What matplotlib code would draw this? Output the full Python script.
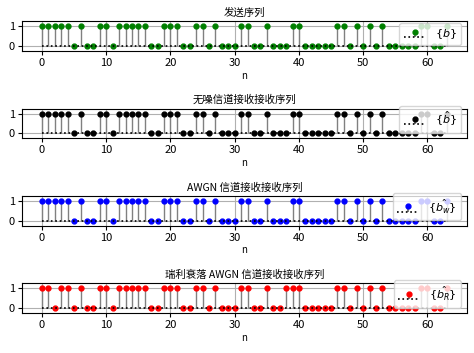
import numpy as np
import matplotlib
matplotlib.use("Agg")
import matplotlib.pyplot as plt

plt.rcParams['font.family'] = ['Noto Sans CJK SC', 'DejaVu Sans']
plt.rcParams['axes.unicode_minus'] = False

# 发送序列 (64 bits)
b = [1, 1, 1, 1, 1, 0, 1, 0, 0, 1, 1, 0, 1, 1, 1, 1,
     1, 0, 0, 1, 1, 1, 0, 0, 1, 1, 0, 1, 0, 0, 0, 1,
     1, 0, 0, 1, 0, 0, 0, 1, 1, 0, 0, 0, 0, 0, 1, 1,
     0, 1, 0, 1, 0, 1, 0, 0, 0, 0, 0, 1, 1, 0, 0, 1]
# 无噪信道接收
b_hat = list(b)
# AWGN 信道接收
b_w = list(b)
# 瑞利衰落 AWGN 信道接收 (两处误码: 2, 38)
b_R = [1, 1, 0, 1, 1, 0, 1, 0, 0, 1, 1, 0, 1, 1, 1, 1,
       1, 0, 0, 1, 1, 1, 0, 0, 1, 1, 0, 1, 0, 0, 0, 1,
       1, 0, 0, 1, 0, 0, 1, 1, 1, 0, 0, 0, 0, 0, 1, 1,
       0, 1, 0, 1, 0, 1, 0, 0, 0, 0, 0, 1, 1, 0, 0, 1]

titles = ['发送序列', '无噪信道接收接收序列', 'AWGN 信道接收接收序列', '瑞利衰落 AWGN 信道接收接收序列']
labels = [r'$\{b\}$', r'$\{\hat{b}\}$', r'$\{\hat{b_w}\}$', r'$\{\hat{b_R}\}$']
colors = ['g', 'k', 'b', 'r']
data = [b, b_hat, b_w, b_R]

n = np.arange(len(b))
fig, axes = plt.subplots(4, 1, figsize=(4.74, 3.53), dpi=100)
fig.subplots_adjust(left=0.046, right=0.985, top=0.94, bottom=0.113, hspace=1.93)

for ax, y, t, lab, c in zip(axes, data, titles, labels, colors):
    ml, sl, bl = ax.stem(n, y, linefmt='grey', markerfmt=c + 'o', basefmt='k:', label=lab)
    plt.setp(ml, markersize=3.5)
    plt.setp(sl, linewidth=1)
    plt.setp(bl, linewidth=1.2)
    ax.set_ylim(-0.25, 1.25)
    ax.set_title(t, fontsize=7.5, pad=4)
    ax.set_xlabel('n', fontsize=7, labelpad=2)
    ax.tick_params(labelsize=8, length=3, pad=2)
    ax.grid(True)
    ax.legend(loc='lower right', fontsize=8)

fig.savefig('out.png', dpi=100)
